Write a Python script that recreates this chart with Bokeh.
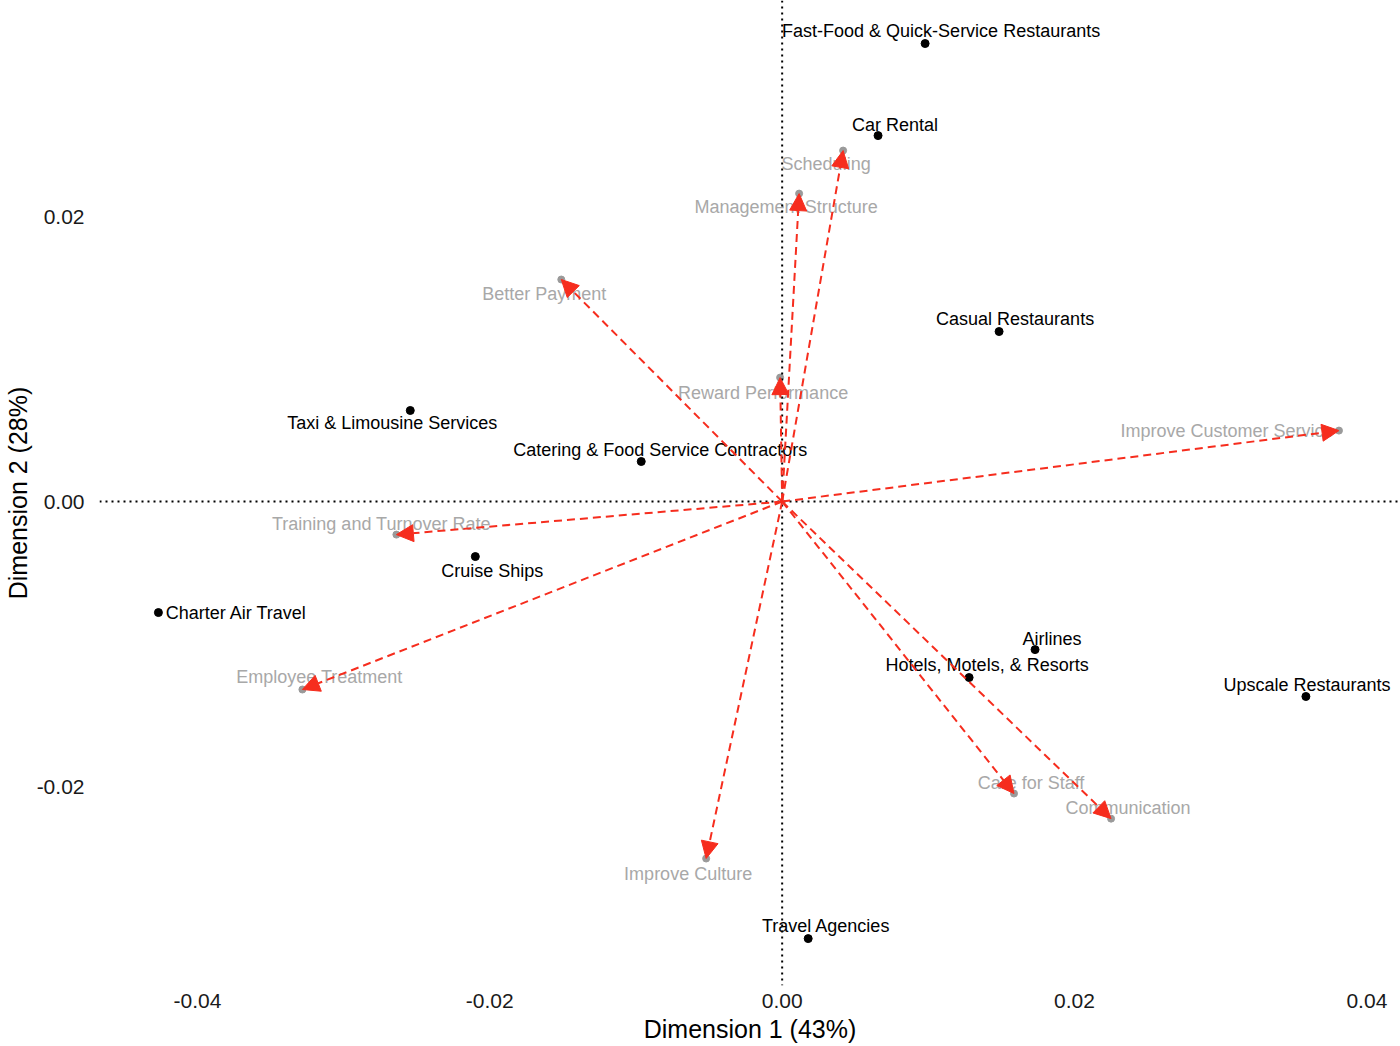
import numpy
from bokeh.plotting import figure
from bokeh.models import ColumnDataSource, Span, Arrow, NormalHead, FixedTicker, Range1d
from bokeh.core.properties import value
from bokeh.embed import file_html
from bokeh.resources import INLINE

# individuals (industries)
industries = ["Fast-Food & Quick-Service Restaurants", "Car Rental", "Casual Restaurants",
              "Taxi & Limousine Services", "Catering & Food Service Contractors", "Cruise Ships",
              "Charter Air Travel", "Airlines", "Hotels, Motels, & Resorts",
              "Upscale Restaurants", "Travel Agencies"]
ind_dim1 = [0.00978, 0.00656, 0.01484, -0.02544, -0.00964, -0.02099, -0.04267, 0.01730, 0.01279, 0.03583, 0.00178]
ind_dim2 = [0.03214, 0.02568, 0.01193, 0.00639, 0.00281, -0.00386, -0.00779, -0.01039, -0.01235, -0.01368, -0.03067]

# variables (improvement themes)
themes = ["Scheduling", "Management Structure", "Better Payment", "Reward Performance",
          "Improve Customer Service", "Training and Turnover Rate", "Employee Treatment",
          "Care for Staff", "Communication", "Improve Culture"]
var_dim1 = [0.00417, 0.00116, -0.01511, -0.00014, 0.03809, -0.02639, -0.03282, 0.01586, 0.02250, -0.00520]
var_dim2 = [0.02463, 0.02161, 0.01558, 0.00870, 0.00498, -0.00232, -0.01319, -0.02049, -0.02225, -0.02505]

x_ticks = [-0.04, -0.02, 0.0, 0.02, 0.04]
y_ticks = [-0.02, 0.0, 0.02]

# label offsets in screen px (dx right, dy down) -- repel-like placement
ind_dx = [16, 17, 16, -18, 19, 17, 78, 17, 18, 1, 18]
ind_dy = [-13, -11, -13, 13, -12, 14, 0, -11, -13, -11, -13]
var_dx = [-17, -13, -17, -17, -112, -15, 17, 17, 17, -18]
var_dy = [13, 13, 14, 15, 0, -11, -13, -11, -11, 15]

RED = "#F62D1E"
FONT = "Liberation Sans"

p = figure(width=1400, height=1046, output_backend="svg", toolbar_location=None,
           x_range=Range1d(-0.0467, 0.0423), y_range=Range1d(-0.03396, 0.03516))
p.min_border_left = 98
p.min_border_right = 0
p.min_border_top = 0
p.min_border_bottom = 61
p.outline_line_color = None
p.xgrid.grid_line_color = None
p.ygrid.grid_line_color = None
p.background_fill_color = "white"

for ax in (p.xaxis, p.yaxis):
    ax.axis_line_color = None
    ax.major_tick_line_color = None
    ax.minor_tick_line_color = None
    ax.major_label_text_font = FONT
    ax.major_label_text_font_size = "21px"
    ax.major_label_text_color = "#1A1A1A"
    ax.axis_label_text_font = FONT
    ax.axis_label_text_font_size = "25px"
    ax.axis_label_text_font_style = "normal"
    ax.axis_label_text_color = "black"

p.xaxis.ticker = FixedTicker(ticks=x_ticks)
p.yaxis.ticker = FixedTicker(ticks=y_ticks)
p.xaxis.major_label_overrides = {t: "%.2f" % t for t in x_ticks}
p.yaxis.major_label_overrides = {t: "%.2f" % t for t in y_ticks}
p.xaxis.axis_label = "Dimension 1 (43%)"
p.yaxis.axis_label = "Dimension 2 (28%)"
p.xaxis.major_label_standoff = 2
p.yaxis.major_label_standoff = 9
p.xaxis.axis_label_standoff = 4
p.yaxis.axis_label_standoff = 2

p.add_layout(Span(location=0, dimension="height", line_color="black", line_dash="2 4", line_width=2))
p.add_layout(Span(location=0, dimension="width", line_color="black", line_dash="2 4", line_width=2))

var_src = ColumnDataSource(dict(x=var_dim1, y=var_dim2, name=themes,
                                dx=var_dx, dy=var_dy, x0=[0] * len(themes), y0=[0] * len(themes)))
ind_src = ColumnDataSource(dict(x=ind_dim1, y=ind_dim2, name=industries, dx=ind_dx, dy=ind_dy))

p.scatter("x", "y", source=var_src, size=7, color="#9A9A9A")
p.text("x", "y", text="name", source=var_src, x_offset="dx", y_offset="dy",
       text_font=value(FONT), text_font_size="18px", text_color="#A8A8A8",
       text_align="center", text_baseline="middle")

p.add_layout(Arrow(source=var_src, x_start="x0", y_start="y0", x_end="x", y_end="y",
                   line_color=RED, line_width=2, line_dash="8 5",
                   end=NormalHead(size=17, fill_color=RED, line_color=RED, line_width=1)))

p.scatter("x", "y", source=ind_src, size=8, color="black")
p.text("x", "y", text="name", source=ind_src, x_offset="dx", y_offset="dy",
       text_font=value(FONT), text_font_size="18px", text_color="black",
       text_align="center", text_baseline="middle")

open("out.html", "w").write(file_html(p, INLINE))
